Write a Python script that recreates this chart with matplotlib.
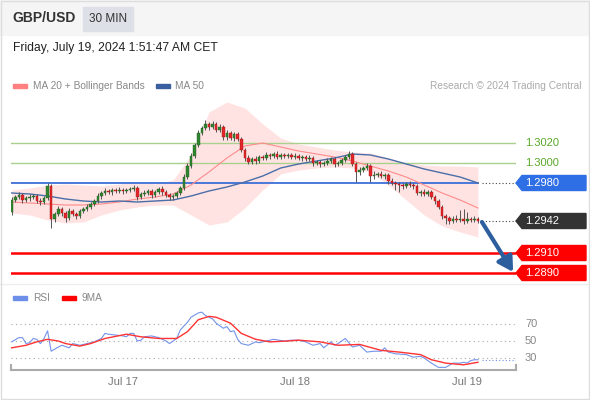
import matplotlib
matplotlib.use("Agg")
import matplotlib.pyplot as plt
from matplotlib.patches import Rectangle, Polygon, FancyArrowPatch
import numpy as np
import pandas as pd

plt.rcParams['font.family'] = ['Liberation Sans', 'DejaVu Sans']

# GBP/USD 30 min candles, prices in pips (x 1e-4)
start = "2024-07-16 08:30"
first_open = 12951
closes = [12963, 12966, 12968, 12963, 12965, 12966, 12967, 12962, 12961, 12965,
          12977, 12944, 12949, 12954, 12950, 12945, 12952, 12949, 12947, 12952,
          12954, 12956, 12959, 12962, 12967, 12970, 12972, 12971, 12973, 12972,
          12973, 12972, 12973, 12974, 12975, 12966, 12969, 12970, 12972, 12968,
          12971, 12974, 12971, 12968, 12966, 12967, 12970, 12975, 12986, 12997,
          13007, 13018, 13030, 13035, 13039, 13036, 13039, 13033, 13036, 13026,
          13030, 13025, 13029, 13024, 13013, 13005, 13001, 13004, 13002, 13006,
          13005, 13008, 13007, 13009, 13006, 13008, 13007, 13008, 13006, 13007,
          13005, 13006, 13004, 13005, 13000, 13001, 12999, 13000, 13002, 13004,
          12999, 13000, 13003, 13006, 13009, 12999, 12991, 12993, 12995, 12997,
          12987, 12988, 12989, 12987, 12988, 12982, 12980, 12979, 12978, 12977,
          12979, 12978, 12977, 12970, 12971, 12969, 12971, 12966, 12962, 12956,
          12947, 12945, 12942, 12944, 12943, 12944, 12942, 12944, 12943, 12944,
          12942]
wick_up = [3, 2, 3, 2, 2, 3, 2, 2, 3, 2,
           3, 2, 2, 3, 2, 2, 3, 2, 2, 2,
           2, 3, 2, 2, 3, 2, 3, 2, 2, 2,
           3, 2, 2, 2, 3, 2, 2, 3, 2, 2,
           2, 2, 3, 2, 2, 2, 2, 2, 3, 3,
           3, 2, 3, 2, 4, 2, 3, 2, 3, 2,
           3, 2, 2, 2, 2, 2, 3, 2, 3, 2,
           2, 3, 2, 2, 3, 2, 2, 2, 2, 3,
           2, 2, 2, 3, 2, 2, 2, 2, 3, 2,
           2, 2, 2, 2, 3, 2, 2, 3, 2, 3,
           2, 4, 2, 3, 2, 2, 3, 2, 2, 2,
           2, 3, 2, 2, 2, 3, 2, 2, 2, 2,
           2, 2, 2, 3, 4, 9, 10, 7, 2, 3,
           2]
wick_dn = [3, 2, 2, 3, 2, 3, 2, 2, 3, 2,
           2, 9, 3, 2, 3, 4, 2, 2, 3, 2,
           2, 2, 2, 2, 2, 3, 2, 2, 3, 2,
           2, 3, 2, 2, 2, 3, 2, 2, 2, 3,
           2, 2, 3, 2, 3, 3, 2, 2, 2, 2,
           2, 2, 2, 2, 2, 3, 2, 2, 2, 3,
           3, 2, 3, 2, 2, 3, 2, 2, 3, 2,
           2, 2, 3, 2, 2, 2, 2, 2, 2, 2,
           2, 3, 2, 2, 3, 2, 3, 2, 2, 2,
           3, 2, 2, 2, 2, 2, 10, 3, 2, 2,
           6, 3, 2, 2, 3, 3, 2, 6, 7, 3,
           2, 2, 3, 2, 3, 2, 2, 2, 3, 2,
           3, 6, 3, 2, 2, 2, 3, 2, 2, 2,
           2]

# indicators read every 5 candles
ind_step = 5
ma20 = [12961, 12960, 12959, 12958, 12958, 12959, 12961, 12964, 12966, 12969,
        12978, 12991, 13005, 13017, 13020, 13016, 13012, 13009, 13006, 13002,
        12997, 12992, 12986, 12978, 12970, 12963, 12955]
ma50 = [12970, 12969, 12967, 12964, 12962, 12961, 12962, 12961, 12962, 12963,
        12967, 12972, 12976, 12981, 12987, 12995, 12999, 13002, 13005, 13009,
        13008, 13004, 12999, 12994, 12990, 12986, 12980]
bb_upper = [12973, 12975, 12978, 12979, 12978, 12977, 12979, 12981, 12979, 12983,
            13008, 13051, 13061, 13055, 13039, 13025, 13019, 13016, 13013, 13011,
            13010, 13005, 13000, 12998, 12997, 12997, 12996]
bb_lower = [12950, 12948, 12943, 12940, 12941, 12948, 12953, 12956, 12958, 12958,
            12948, 12938, 12941, 12955, 12973, 12989, 12993, 12995, 12996, 12995,
            12991, 12978, 12963, 12948, 12937, 12931, 12926]

# RSI and its 9 period MA (candle index, value)
rsi_idx = [0, 2, 3, 4, 5, 6, 7, 8, 9, 10, 11, 13, 14, 16, 17, 18, 19, 21, 23, 25,
           26, 27, 29, 31, 32, 33, 34, 35, 36, 37, 39, 41, 42, 43, 44, 46, 47, 49, 50, 52,
           53, 54, 56, 57, 59, 60, 61, 62, 63, 64, 66, 68, 69, 71, 73, 76, 78, 80, 82, 84,
           86, 87, 89, 90, 91, 93, 95, 97, 99, 101, 103, 104, 105, 107, 110, 112, 114, 115, 117, 119,
           121, 123, 125, 126, 127, 128, 129, 130]
rsi = [49, 54, 54, 47, 48, 53, 52, 47, 53, 62, 38, 43, 45, 42, 47, 46, 45, 47, 49, 53,
       59, 58, 57, 56, 55, 59, 59, 50, 51, 55, 56, 54, 52, 50, 47, 53, 63, 72, 78, 83,
       84, 80, 76, 71, 65, 67, 61, 62, 52, 47, 45, 49, 48, 50, 52, 50, 51, 51, 49, 45,
       47, 42, 49, 45, 47, 53, 43, 45, 37, 38, 38, 42, 37, 35, 34, 31, 32, 30, 24, 19,
       19, 24, 24, 25, 24, 27, 28, 28]
ma9_idx = [0, 4, 7, 10, 13, 15, 19, 22, 26, 32, 36, 41, 46, 49, 52, 55, 57, 61, 64, 68,
           72, 77, 80, 86, 91, 97, 103, 108, 114, 117, 121, 126, 130]
rsi_ma9 = [42, 45, 49, 52, 50, 47, 44, 47, 53, 58, 55, 53, 53, 61, 75, 79, 78, 71, 59, 52,
           49, 50, 51, 49, 45, 46, 39, 37, 34, 28, 24, 22, 25]

# key levels
res_levels = [1.3020, 1.3000]
pivot = 1.2980
last_price = 1.2942
sup_levels = [1.2910, 1.2890]

# ---- derived ----
c = np.array(closes) / 1e4
o = np.concatenate([[first_open / 1e4], c[:-1]])
hi = np.maximum(o, c) + np.array(wick_up) / 1e4
lo = np.minimum(o, c) - np.array(wick_dn) / 1e4
n = len(c)
x = np.arange(n)
xi = np.arange(0, n, ind_step)
times = pd.date_range(start, periods=n, freq="30min")

W, H = 590, 400
fig = plt.figure(figsize=(W / 100, H / 100), dpi=100)
fig.patch.set_facecolor('white')

def fx(px):
    return px / W

def fy(py):
    return 1 - py / H

# header band + border
fig.add_artist(Rectangle((0, fy(35)), 1, 35 / H, transform=fig.transFigure,
                         color='#f5f5f5', zorder=0))
fig.add_artist(Rectangle((fx(83), fy(31)), 50 / W, 24 / H, transform=fig.transFigure,
                         color='#dde0e6', zorder=1))
fig.add_artist(Rectangle((0.001, 0.002), 0.997, 0.996, transform=fig.transFigure,
                         fill=False, ec='#dddddd', lw=1, zorder=5))
fig.add_artist(plt.Line2D([0, 1], [fy(284), fy(284)], transform=fig.transFigure,
                          color='#eeeeee', lw=1))
fig.text(fx(12), fy(18), "GBP/USD", fontsize=10, fontweight='bold', color='#333333', va='center')
fig.text(fx(108), fy(18.5), "30 MIN", fontsize=8.5, color='#333333', va='center', ha='center')
fig.text(fx(13), fy(48), "Friday, July 19, 2024 1:51:47 AM CET", fontsize=8.7, color='#222222',
         va='center')

# legend row
fig.add_artist(Rectangle((fx(13), fy(88)), 14 / W, 4 / H, transform=fig.transFigure, color='#ff8080'))
fig.text(fx(33), fy(86), "MA 20 + Bollinger Bands", fontsize=7.3, color='#888888', va='center')
fig.add_artist(Rectangle((fx(156), fy(88)), 14 / W, 4 / H, transform=fig.transFigure, color='#3a5f9e'))
fig.text(fx(175), fy(86), "MA 50", fontsize=7.3, color='#888888', va='center')
fig.text(fx(581), fy(86), "Research \u00a9 2024 Trading Central", fontsize=7.3, color='#aaaaaa',
         va='center', ha='right')

# ---- price panel ----
ax = fig.add_axes([fx(11), fy(280), 505 / W, 185 / H])
ax.set_xlim(-0.2, 140.6)
ax.set_ylim(1.2883, 1.3068)
ax.axis('off')

ax.fill_between(xi, np.array(bb_upper) / 1e4, np.array(bb_lower) / 1e4,
                color='#ffe3e3', lw=0, zorder=1)
ax.plot(xi, np.array(ma20) / 1e4, color='#ff8a8a', lw=0.8, zorder=2)
ax.plot(xi, np.array(ma50) / 1e4, color='#4a6ea8', lw=1.0, zorder=2)

for lv in res_levels:
    ax.axhline(lv, color='#a9d18e', lw=1, zorder=1.5)
ax.plot([-0.2, n - 1], [pivot, pivot], color='#3b6fd8', lw=1.3, zorder=1.5)
ax.plot([n, 140.6], [pivot, pivot], color='#444444', lw=0.8, ls=(0, (1, 2)), zorder=1.5)
ax.plot([n, 140.6], [last_price, last_price], color='#444444', lw=0.8, ls=(0, (1, 2)), zorder=1.5)
for lv in sup_levels:
    ax.axhline(lv, color='#ff0000', lw=1.8, zorder=1.5)

up = c >= o
ax.vlines(x, lo, hi, color='#555555', lw=0.7, zorder=3)
body = np.maximum(np.abs(c - o), 0.00006)
ax.bar(x[up], body[up], bottom=np.minimum(o, c)[up], width=0.72, color='#2f862f',
       edgecolor='#1f5f1f', lw=0.3, zorder=4)
ax.bar(x[~up], body[~up], bottom=np.minimum(o, c)[~up], width=0.72, color='#e3262a',
       edgecolor='#a01515', lw=0.3, zorder=4)

# forecast arrow
ax.add_patch(FancyArrowPatch((n + 0.1, last_price - 0.0001), (139.8, sup_levels[1] + 0.0001),
                             arrowstyle='-|>,head_length=4,head_width=2.3', mutation_scale=2.2,
                             color='#2d5e9e', lw=3.0, zorder=6, clip_on=False,
                             shrinkA=0, shrinkB=0))

# right hand labels
tr = ax.get_yaxis_transform()
tag_w = 70 / 505
tip = 6 / 505
hh = 0.00075
for lv in res_levels:
    ax.text(1 + 9 / 505, lv, f"{lv:.4f}", transform=tr, fontsize=8, color='#5aa82a',
            va='center', clip_on=False)
for lv, col in [(pivot, '#2f6fe6'), (last_price, '#333333'),
                (sup_levels[0], '#ff0000'), (sup_levels[1], '#ff0000')]:
    ax.add_patch(Polygon([(1, lv), (1 + tip, lv + hh), (1 + tag_w, lv + hh),
                          (1 + tag_w, lv - hh), (1 + tip, lv - hh)], closed=True,
                         transform=tr, color=col, clip_on=False, zorder=7))
    ax.text(1 + 9 / 505, lv, f"{lv:.4f}", transform=tr, fontsize=8, color='white',
            va='center', clip_on=False, zorder=8)

# ---- RSI panel ----
fig.add_artist(Rectangle((fx(13), fy(300)), 14 / W, 4 / H, transform=fig.transFigure, color='#6d8fea'))
fig.text(fx(33), fy(298), "RSI", fontsize=7.3, color='#888888', va='center')
fig.add_artist(Rectangle((fx(62), fy(300)), 14 / W, 4 / H, transform=fig.transFigure, color='#ff0000'))
fig.text(fx(82), fy(298), "9MA", fontsize=7.3, color='#888888', va='center')

ax2 = fig.add_axes([fx(11), fy(370), 505 / W, 60 / H])
ax2.set_xlim(-0.2, 140.6)
ax2.set_ylim(15.9, 86.5)
for s in ['top', 'left', 'right']:
    ax2.spines[s].set_visible(False)
ax2.spines['bottom'].set_color('#aaaaaa')
ax2.spines['bottom'].set_linewidth(1.5)
ax2.set_yticks([])
ax2.set_xticks([])
ax2.plot([0, 0], [0, 0.09], transform=ax2.transAxes, color='#aaaaaa', lw=1.5, clip_on=False)
ax2.plot([1, 1], [0, 0.09], transform=ax2.transAxes, color='#aaaaaa', lw=1.5, clip_on=False)
for lv in [70, 50, 30]:
    ax2.axhline(lv, color='#aaaaaa', lw=0.8, ls=(0, (1, 3)))
    ax2.text(1 + 9 / 505, lv, str(lv), transform=ax2.get_yaxis_transform(), fontsize=8,
             color='#888888', va='center', clip_on=False)
ax2.plot(rsi_idx, rsi, color='#7393ea', lw=0.8)
ax2.plot(ma9_idx, rsi_ma9, color='#ff3333', lw=1.0)
ax2.plot([n, 140.6], [rsi[-1], rsi[-1]], color='#7393ea', lw=0.8, ls=(0, (1, 2)))

for k, t in enumerate(times):
    if t.hour == 0 and t.minute == 0:
        ax2.text(k, -0.2, f"{t:%b} {t.day}", transform=ax2.get_xaxis_transform(),
                 fontsize=8, color='#777777', ha='center', va='center')

fig.savefig("out.png", dpi=100)
